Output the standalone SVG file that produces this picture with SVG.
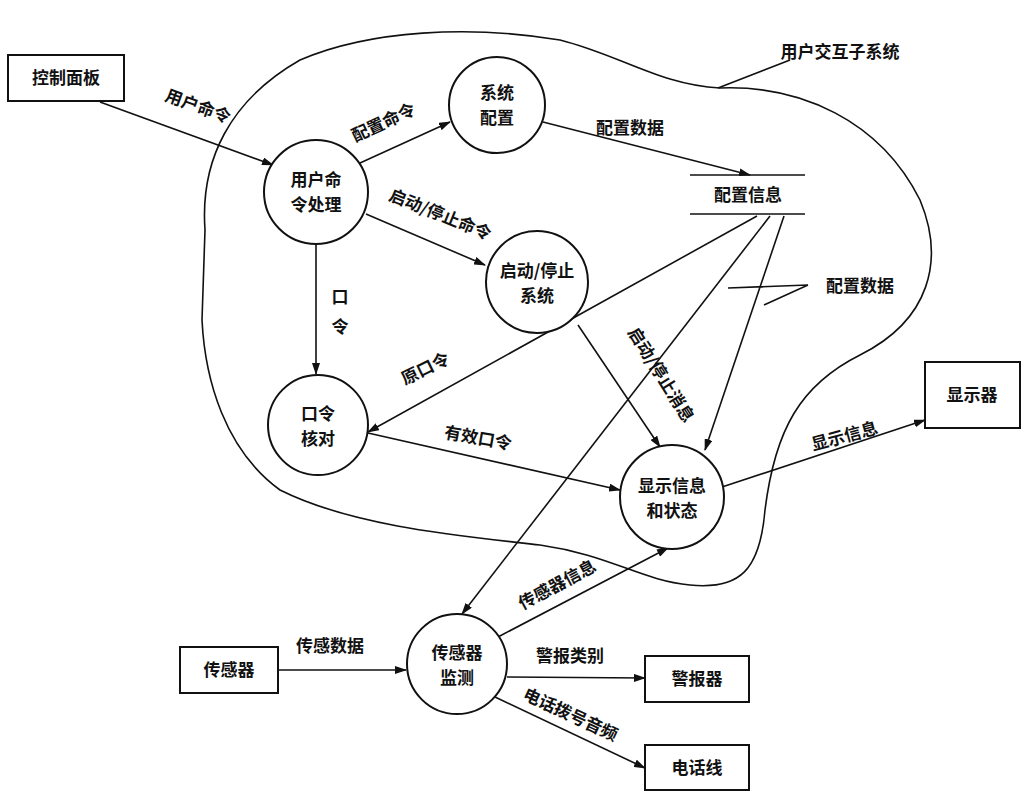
<svg xmlns="http://www.w3.org/2000/svg" width="1027" height="798" viewBox="0 0 1027 798">
<style>
text{font-family:"Noto Sans CJK SC","Liberation Sans",sans-serif;font-size:17px;font-weight:bold;fill:#111;text-anchor:middle}
.n{fill:#fff;stroke:#111;stroke-width:2}
.c{fill:none;stroke:#111;stroke-width:1.6}
</style>
<defs><marker id="a" markerWidth="12" markerHeight="8" refX="11" refY="4" orient="auto" markerUnits="userSpaceOnUse"><path d="M0,0 L12,4 L0,8 Z" fill="#111"/></marker></defs>
<rect width="1027" height="798" fill="#fff"/>
<g id="boundary">
<path class="c" stroke-width="2" d="M205,230 C200,160 230,100 300,60 C370,30 470,25 560,40 C620,55 660,85 720,88 C800,85 880,120 920,200 C945,260 930,320 860,355 C800,385 775,430 765,510 C760,570 740,590 690,585 C640,580 610,555 540,545 C450,535 350,525 280,490 C225,450 205,380 202,320 Z"/>
<path class="c" d="M718,88 L790,60"/>
<text x="840" y="58">用户交互子系统</text>
</g>
<g id="connectors">
<path class="c" marker-end="url(#a)" d="M100,102 L273,165"/>
<path class="c" marker-end="url(#a)" d="M360,163 L450,122"/>
<path class="c" marker-end="url(#a)" d="M543,122 L750,175"/>
<path class="c" marker-end="url(#a)" d="M366,214 L485,265"/>
<path class="c" marker-end="url(#a)" d="M316,244 L316,374"/>
<path class="c" marker-end="url(#a)" d="M757,216 L368,432"/>
<path class="c" marker-end="url(#a)" d="M368,433 L620,490"/>
<path class="c" marker-end="url(#a)" d="M578,325 L660,447"/>
<path class="c" marker-end="url(#a)" d="M784,216 L705,450"/>
<path class="c" marker-end="url(#a)" d="M770,216 L462,614"/>
<path class="c" marker-end="url(#a)" d="M498,637 L668,548"/>
<path class="c" marker-end="url(#a)" d="M722,487 L925,420"/>
<path class="c" marker-end="url(#a)" d="M278,670 L406,670"/>
<path class="c" marker-end="url(#a)" d="M507,677 L645,678"/>
<path class="c" marker-end="url(#a)" d="M495,697 L645,768"/>
<path class="c" d="M808,285 L728,288 M808,285 L764,305"/>
<text transform="translate(196,112) rotate(20)">用户命令</text>
<text transform="translate(386,128) rotate(-25)">配置命令</text>
<text x="630" y="134">配置数据</text>
<text transform="translate(438,220) rotate(22)">启动/停止命令</text>
<text x="340" y="303">口</text>
<text x="340" y="333">令</text>
<text transform="translate(428,374) rotate(-26)">原口令</text>
<text transform="translate(477,444) rotate(10)">有效口令</text>
<text transform="translate(656,378) rotate(58)">启动/停止消息</text>
<text x="860" y="292">配置数据</text>
<text transform="translate(560,590) rotate(-28)">传感器信息</text>
<text transform="translate(846,442) rotate(-15)">显示信息</text>
<text x="330" y="652">传感数据</text>
<text x="570" y="662">警报类别</text>
<text transform="translate(568,720) rotate(25)">电话拨号音频</text>
</g>
<g id="n-panel"><rect class="n" x="8" y="55" width="116" height="46"/><text x="66" y="84">控制面板</text></g>
<g id="n-sysconf"><circle class="n" cx="497" cy="105" r="48"/><text x="497" y="99">系统</text><text x="497" y="124">配置</text></g>
<g id="n-cmd"><circle class="n" cx="316" cy="192" r="52"/><text x="316" y="186">用户命</text><text x="316" y="211">令处理</text></g>
<g id="n-store"><line class="c" x1="690" y1="175" x2="805" y2="175"/><line class="c" x1="690" y1="214" x2="805" y2="214"/><text x="748" y="201">配置信息</text></g>
<g id="n-startstop"><circle class="n" cx="537" cy="282" r="51"/><text x="537" y="277">启动/停止</text><text x="537" y="302">系统</text></g>
<g id="n-pwd"><circle class="n" cx="318" cy="425" r="50"/><text x="318" y="420">口令</text><text x="318" y="445">核对</text></g>
<g id="n-disp"><circle class="n" cx="672" cy="497" r="52"/><text x="672" y="492">显示信息</text><text x="672" y="517">和状态</text></g>
<g id="n-monitor"><circle class="n" cx="457" cy="664" r="50"/><text x="457" y="659">传感器</text><text x="457" y="684">监测</text></g>
<g id="n-display"><rect class="n" x="925" y="362" width="95" height="66"/><text x="972" y="401">显示器</text></g>
<g id="n-sensor"><rect class="n" x="180" y="647" width="98" height="46"/><text x="229" y="676">传感器</text></g>
<g id="n-alarm"><rect class="n" x="645" y="656" width="104" height="46"/><text x="697" y="685">警报器</text></g>
<g id="n-phone"><rect class="n" x="645" y="745" width="104" height="45"/><text x="697" y="774">电话线</text></g>
</svg>
